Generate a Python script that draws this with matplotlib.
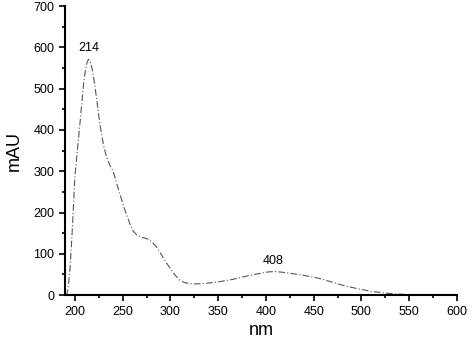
import matplotlib
matplotlib.use('Agg')
import matplotlib.pyplot as plt
from matplotlib.ticker import MultipleLocator

plt.rcParams['font.family'] = ['Liberation Sans', 'DejaVu Sans']

# wavelength (nm) and absorbance (mAU)
wl = [190, 191.5, 193, 195, 197, 200, 202.5, 205, 207, 209, 211, 213, 214.5, 216, 218,
      220, 223, 226, 230, 233, 237, 240, 244, 247, 251, 254, 258, 261, 265, 270,
      275, 280, 285, 289, 293, 297, 300, 305, 310, 315, 320, 325, 335, 350, 365,
      376, 390, 402, 408, 415, 425, 439, 455, 467, 480, 495, 510, 522, 533, 543, 550, 555]
mau = [0, 2, 20, 70, 150, 290, 350, 410, 460, 510, 545, 566, 571, 566, 548,
       520, 470, 415, 362, 335, 312, 300, 268, 245, 215, 195, 170, 155, 145, 140,
       137, 130, 118, 104, 88, 74, 64, 48, 36, 30, 28, 27, 28, 32, 38,
       44, 51, 56, 57, 56, 53, 48, 41, 33, 24, 16, 9, 6, 3, 2, 1, 0]

peaks = [214, 408]
peak_vals = [571, 57]

fig = plt.figure(figsize=(4.74, 3.53), dpi=100)
ax = fig.add_axes([0.137, 0.164, 0.827, 0.819])

ax.plot(wl, mau, color='#555555', lw=0.8, ls=(0, (6, 2, 1, 2)))

for p, v in zip(peaks, peak_vals):
    ax.text(p, v + 12, str(p), ha='center', va='bottom', fontsize=9)

ax.set_xlim(189.5, 600)
ax.set_ylim(0, 700)
ax.xaxis.set_major_locator(MultipleLocator(50))
ax.xaxis.set_minor_locator(MultipleLocator(25))
ax.yaxis.set_major_locator(MultipleLocator(100))
ax.yaxis.set_minor_locator(MultipleLocator(50))
ax.tick_params(which='major', direction='out', length=4, width=1.2, labelsize=9)
ax.tick_params(which='minor', direction='out', length=2.5, width=1.2)

for s in ['top', 'right']:
    ax.spines[s].set_visible(False)
for s in ['left', 'bottom']:
    ax.spines[s].set_linewidth(1.5)

ax.set_xlabel('nm', fontsize=13, labelpad=3)
ax.set_ylabel('mAU', fontsize=13, labelpad=8)

plt.savefig('out.png', dpi=100)
